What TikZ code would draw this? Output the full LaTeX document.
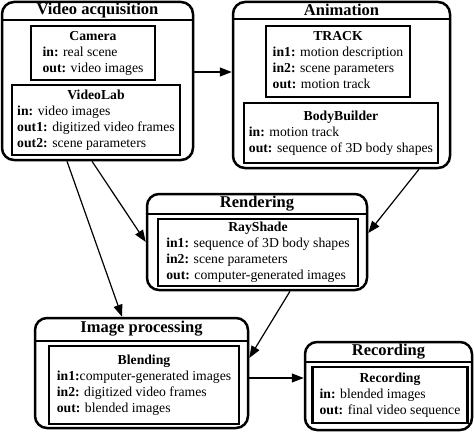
\documentclass[tikz,border=0pt]{standalone}
\usepackage{fontspec}
\setmainfont{Liberation Serif}
\usetikzlibrary{arrows.meta}
\newcommand{\kw}[1]{\textbf{#1}}
\newcommand{\modbox}[2]{\begin{tabular}{@{}l@{}}\multicolumn{1}{@{}c@{}}{\textbf{#1}}\\#2\end{tabular}}
\begin{document}
\begin{tikzpicture}[x=1pt,y=-1pt,
  stage/.style={draw, line width=2.5pt, rounded corners=12pt, inner sep=0pt},
  module/.style={draw, line width=2.5pt, inner sep=0pt, font=\fontsize{13.7}{16}\selectfont},
  stitle/.style={font=\fontsize{16.5}{18}\selectfont\bfseries, inner sep=0pt},
  sepline/.style={line width=2pt},
  arr/.style={line width=1.2pt, -{Triangle[length=12pt,width=9pt]}}]

\useasboundingbox (0,0) rectangle (474,436);

% Video acquisition
\node[stage, minimum width=191pt, minimum height=158pt] (VA) at (97.5,81) {};
\node[stitle] (VAt) at ([yshift=-9.5pt]VA.north) {Video acquisition};
\draw[sepline] ([yshift=-19pt]VA.north west) -- ([yshift=-19pt]VA.north east);
\node[module, minimum width=124pt, minimum height=54pt] (cam) at (93,53)
  {\modbox{Camera}{\kw{in:} real scene\\\kw{out:} video images}};
\node[module, minimum width=168pt, minimum height=70pt] (vlab) at (96,120)
  {\modbox{VideoLab}{\kw{in:} video images\\\kw{out1:} digitized video frames\\\kw{out2:} scene parameters}};

% Animation
\node[stage, minimum width=217pt, minimum height=166pt] (AN) at (341.5,85) {};
\node[stitle] (ANt) at ([yshift=-9pt]AN.north) {Animation};
\draw[sepline] ([yshift=-18pt]AN.north west) -- ([yshift=-18pt]AN.north east);
\node[module, minimum width=144pt, minimum height=71pt] (track) at (338,61.5)
  {\modbox{TRACK}{\kw{in1:} motion description\\\kw{in2:} scene parameters\\\kw{out:} motion track}};
\node[module, minimum width=194pt, minimum height=60pt] (body) at (341,133)
  {\modbox{BodyBuilder}{\kw{in:} motion track\\\kw{out:} sequence of 3D body shapes}};

% Rendering
\node[stage, minimum width=220pt, minimum height=96pt] (RE) at (257,242) {};
\node[stitle] (REt) at ([yshift=-10.5pt]RE.north) {Rendering};
\draw[sepline] ([yshift=-21pt]RE.north west) -- ([yshift=-21pt]RE.north east);
\node[module, minimum width=200pt, minimum height=67pt] (ray) at (258,252.5)
  {\modbox{RayShade}{\kw{in1:} sequence of 3D body shapes\\\kw{in2:} scene parameters\\\kw{out:} computer-generated images}};

% Image processing
\node[stage, minimum width=213pt, minimum height=110pt] (IP) at (141.5,373) {};
\node[stitle] (IPt) at ([yshift=-12pt]IP.north) {Image processing};
\draw[sepline] ([yshift=-24pt]IP.north west) -- ([yshift=-24pt]IP.north east);
\node[module, minimum width=190pt, minimum height=78pt] (blend) at (144,385)
  {\modbox{Blending}{\kw{in1:}computer-generated images\\\kw{in2:} digitized video frames\\\kw{out:} blended images}};

% Recording
\node[stage, minimum width=167pt, minimum height=88pt] (RC) at (388.5,386) {};
\node[stitle] (RCt) at ([yshift=-10.5pt]RC.north) {Recording};
\draw[sepline] ([yshift=-21pt]RC.north west) -- ([yshift=-21pt]RC.north east);
\node[module, minimum width=155pt, minimum height=56pt] (rec) at (390,395)
  {\modbox{Recording}{\kw{in:} blended images\\\kw{out:} final video sequence}};

% connectors
\draw[arr] ([yshift=9pt]VA.east) -- ([yshift=13pt]AN.west);
\draw[arr] ([xshift=-30.5pt]VA.south) -- ([xshift=-19.5pt]IP.north);
\draw[arr] ([xshift=-5.5pt]VA.south) -- (RE.west);
\draw[arr] ([xshift=77.5pt]AN.south) -- ([yshift=9pt]RE.east);
\draw[arr] ([xshift=33pt]RE.south) -- ([yshift=15pt]IP.east);
\draw[arr] ([yshift=-5pt]IP.east) -- ([yshift=8pt]RC.west);
\end{tikzpicture}
\end{document}
